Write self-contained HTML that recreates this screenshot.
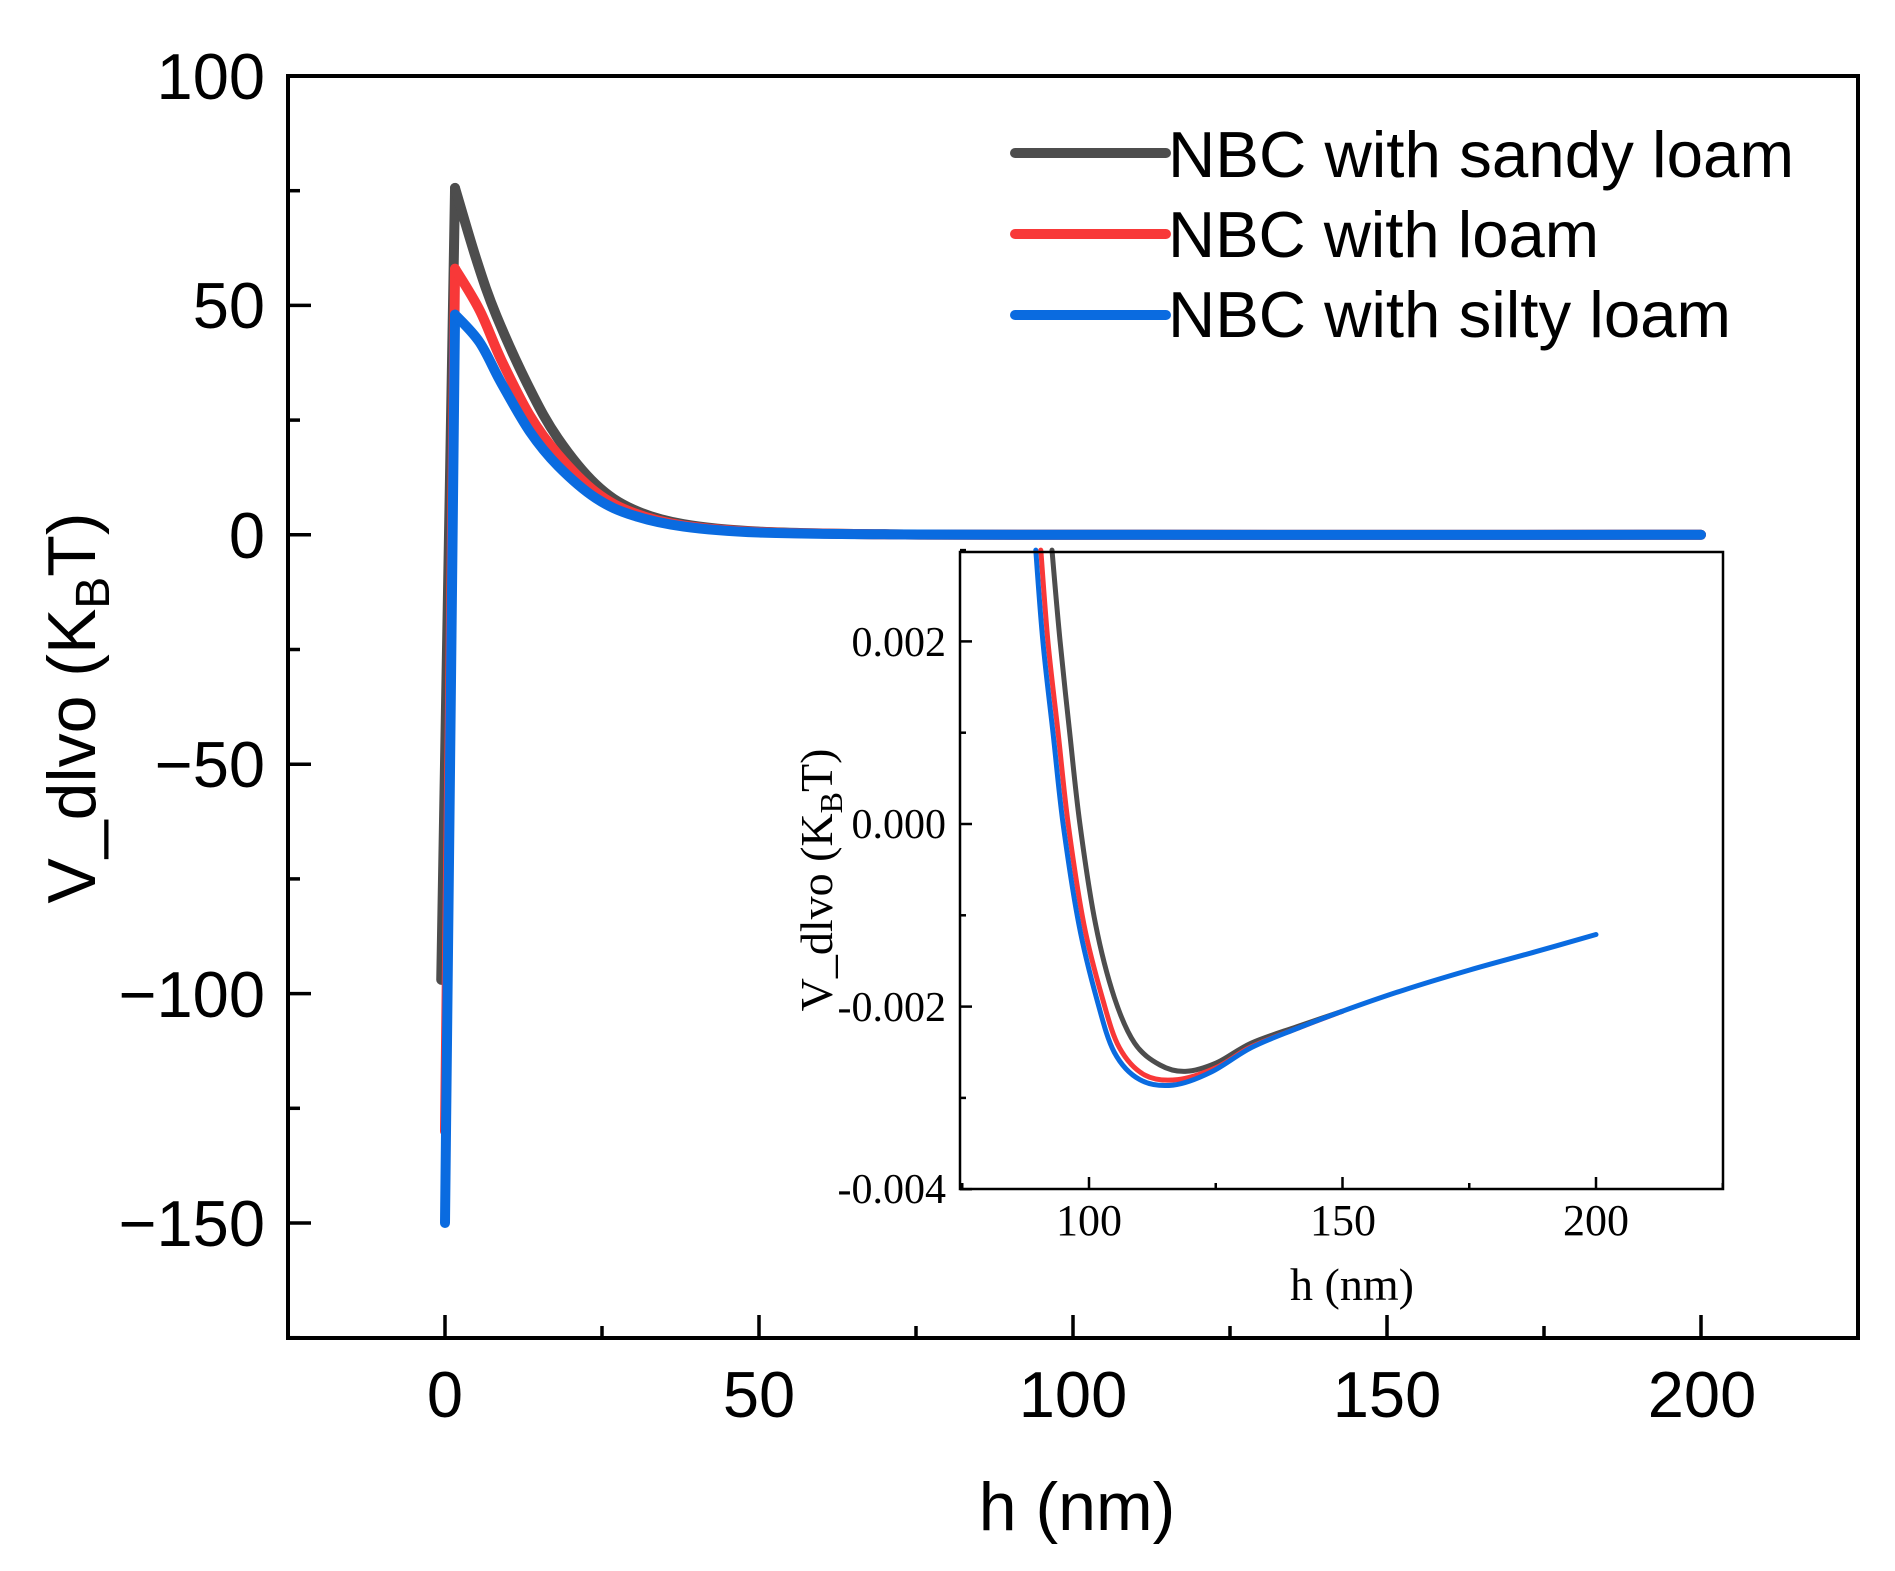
<!DOCTYPE html>
<html><head><meta charset="utf-8"><style>
html,body{margin:0;padding:0;background:#fff}
svg{display:block}
</style></head><body>
<svg id="s" width="1895" height="1571" viewBox="0 0 1895 1571" xmlns="http://www.w3.org/2000/svg">
<g font-family="Liberation Sans, sans-serif" fill="#000">
<g font-size="65" text-anchor="end">
<text x="265" y="99">100</text>
<text x="265" y="328">50</text>
<text x="265" y="558">0</text>
<text x="265" y="787">−50</text>
<text x="265" y="1017">−100</text>
<text x="265" y="1246">−150</text>
</g>
<g font-size="65" text-anchor="middle">
<text x="445" y="1417">0</text>
<text x="759" y="1417">50</text>
<text x="1073" y="1417">100</text>
<text x="1387" y="1417">150</text>
<text x="1702" y="1417">200</text>
</g>
<text x="1077" y="1530" font-size="68" text-anchor="middle">h (nm)</text>
<text transform="translate(95,708) rotate(-90)" font-size="68" text-anchor="middle">V_dlvo (K<tspan font-size="48" dy="14">B</tspan><tspan dy="-14">T)</tspan></text>
<g font-size="65">
<text x="1168" y="177" textLength="626" lengthAdjust="spacingAndGlyphs">NBC with sandy loam</text>
<text x="1168" y="257" textLength="431" lengthAdjust="spacingAndGlyphs">NBC with loam</text>
<text x="1168" y="337" textLength="563" lengthAdjust="spacingAndGlyphs">NBC with silty loam</text>
</g>
</g>
<g stroke-width="10" stroke-linecap="round">
<line x1="1015" y1="153" x2="1166" y2="153" stroke="#4d4d4d"/>
<line x1="1015" y1="234" x2="1166" y2="234" stroke="#f83838"/>
<line x1="1015" y1="315" x2="1166" y2="315" stroke="#0a6be0"/>
</g>
<g id="main" fill="none" stroke-width="10" stroke-linecap="round" stroke-linejoin="round"></g>
<g id="ticks" stroke="#000" stroke-width="3.5"></g>
<rect x="288" y="76" width="1570" height="1262" fill="none" stroke="#000" stroke-width="4"/>
<rect x="960" y="552" width="763" height="637" fill="#fff" stroke="none"/>
<g id="inset" fill="none" stroke-width="5" stroke-linecap="round" stroke-linejoin="round"></g>
<rect x="960" y="552" width="763" height="637" fill="none" stroke="#000" stroke-width="2.5"/>
<g id="iticks" stroke="#000" stroke-width="2.5"></g>
<g font-family="Liberation Serif, serif" fill="#000" font-size="42">
<g text-anchor="end">
<text x="946" y="656">0.002</text>
<text x="946" y="838">0.000</text>
<text x="946" y="1021">-0.002</text>
<text x="946" y="1203">-0.004</text>
</g>
<g text-anchor="middle" font-size="44">
<text x="1089" y="1235">100</text>
<text x="1343" y="1235">150</text>
<text x="1596" y="1235">200</text>
</g>
<text x="1352" y="1300" font-size="46" text-anchor="middle">h (nm)</text>
<text transform="translate(832,880) rotate(-90)" font-size="46" text-anchor="middle">V_dlvo (K<tspan font-size="32" dy="10">B</tspan><tspan dy="-10">T)</tspan></text>
</g>
</svg>
<script>
var NS="http://www.w3.org/2000/svg";
function el(p,t,a){var e=document.createElementNS(NS,t);for(var k in a)e.setAttribute(k,a[k]);p.appendChild(e);return e;}
function cr(pts){var d="M"+pts[0][0].toFixed(1)+","+pts[0][1].toFixed(1);
for(var i=0;i<pts.length-1;i++){var p0=pts[i-1]||pts[i],p1=pts[i],p2=pts[i+1],p3=pts[i+2]||p2;
var c1=[p1[0]+(p2[0]-p0[0])/6,p1[1]+(p2[1]-p0[1])/6],c2=[p2[0]-(p3[0]-p1[0])/6,p2[1]-(p3[1]-p1[1])/6];
d+=" C"+c1[0].toFixed(1)+","+c1[1].toFixed(1)+" "+c2[0].toFixed(1)+","+c2[1].toFixed(1)+" "+p2[0].toFixed(1)+","+p2[1].toFixed(1);}
return d;}
var MX=function(h){return 445+h*6.28},MY=function(v){return 534.8-v*4.588};
var main=document.getElementById("main");
var S=[
 ["#4d4d4d",[[-0.6,-97],[1.6,75.6]],[[1.6,75.6],[5,60],[8.2,47.7],[13.5,31.8],[18,21],[24,11],[30,5.5],[38,2.3],[50,0.7],[70,0.1],[100,0],[200,0]]],
 ["#f83838",[[0,-130],[1.6,58]],[[1.6,58],[5.5,49],[9,38],[13.5,26],[18,17.5],[24,9.3],[30,4.8],[38,2],[50,0.6],[70,0.1],[100,0],[200,0]]],
 ["#0a6be0",[[0,-150],[1.6,48]],[[1.6,48],[5.5,42],[9,33],[13.5,22.5],[18,15],[24,8],[30,4.2],[38,1.8],[50,0.5],[70,0.1],[100,0],[200,0]]]];
S.forEach(function(s){
 var a=s[1].map(function(p){return [MX(p[0]),MY(p[1])]});
 el(main,"path",{d:"M"+a[0][0]+","+a[0][1]+" L"+a[1][0]+","+a[1][1],stroke:s[0]});
 var b=s[2].map(function(p){return [MX(p[0]),MY(p[1])]});
 el(main,"path",{d:cr(b),stroke:s[0]});
});
var tk=document.getElementById("ticks");
for(var h=0;h<=225;h+=25){var x=MX(h);el(tk,"line",{x1:x,y1:1338,x2:x,y2:1338-(h%50==0?23:12)});}
for(var v=-175;v<=100;v+=25){var y=MY(v);el(tk,"line",{x1:288,y1:y,x2:288+(v%50==0?23:12),y2:y});}
var IX=function(h){return 1089+(h-100)*5.07},IY=function(v){return 824-v*91300};
var ins=document.getElementById("inset");
var tail=[[132,-0.00245],[141,-0.00224],[150,-0.00205],[162,-0.00182],[175,-0.0016],[188,-0.0014],[200,-0.00121]];
var blue=[[89.5,0.003],[90.9,0.002],[92.9,0.001],[94.9,0],[98,-0.0011],[101.6,-0.00193],[105,-0.0025],[110,-0.0028],[116.6,-0.00286],[124,-0.00272]].concat(tail);
var red=[[90.5,0.003],[91.9,0.002],[93.9,0.001],[95.9,0],[99,-0.0011],[102.6,-0.0019],[106,-0.00245],[111,-0.00275],[117.5,-0.0028],[125,-0.00267],[132,-0.00244],[141,-0.00224],[150,-0.00205]];
var blk=[[92.7,0.003],[94.3,0.002],[96.2,0.001],[98.2,0],[101.3,-0.0011],[105,-0.0019],[109,-0.0024],[114,-0.00264],[119,-0.00271],[125,-0.00262],[132,-0.0024],[141,-0.00222],[150,-0.00205]];
function P(pts){return cr(pts.map(function(p){return [IX(p[0]),IY(p[1])]}));}
el(ins,"path",{d:P(blk),stroke:"#4d4d4d"});
el(ins,"path",{d:P(red),stroke:"#f83838"});
el(ins,"path",{d:P(blue),stroke:"#0a6be0"});
var it=document.getElementById("iticks");
for(var h=75;h<=225;h+=25){var x=IX(h);el(it,"line",{x1:x,y1:1189,x2:x,y2:1189-(h%50==0?12:6)});}
for(var v=-4;v<=3;v++){var y=IY(v*0.001);el(it,"line",{x1:960,y1:y,x2:960+(v%2==0?12:6),y2:y});}
</script>
</body></html>
